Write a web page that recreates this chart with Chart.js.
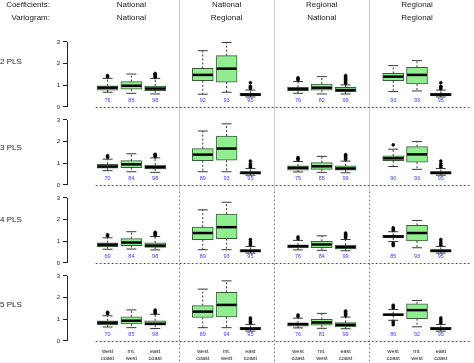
<!DOCTYPE html>
<html>
<head>
<meta charset="utf-8">
<script src="https://cdn.jsdelivr.net/npm/chart.js@4.4.1/dist/chart.umd.min.js"></script>
<style>
    html, body { margin: 0; padding: 0; background: #fff; }
</style>
</head>
<body>
<canvas id="box-grid" width="474" height="363"></canvas>
<script>
// chart data
var regions = ['west\ncoast', 'mt.\nwest', 'east\ncoast'];
var coefficients = ['National', 'National', 'Regional', 'Regional'];
var variograms = ['National', 'Regional', 'National', 'Regional'];
var plsRows = ['2 PLS', '3 PLS', '4 PLS', '5 PLS'];
var xSlots = [1, 2, 3, 5, 6, 7, 9, 10, 11, 13, 14, 15];
var yTicks = [0, 1, 2, 3];

// one row per PLS model, 12 boxes per row (4 panels x 3 regions)
var whiskerLow = [
    [0.68, 0.63, 0.60, 0.59, 0.68, 0.46, 0.63, 0.60, 0.60, 0.71, 0.74, 0.46],
    [0.66, 0.61, 0.58, 0.61, 0.61, 0.45, 0.60, 0.58, 0.56, 0.85, 0.72, 0.45],
    [0.63, 0.64, 0.60, 0.61, 0.61, 0.45, 0.60, 0.58, 0.56, 0.99, 0.70, 0.45],
    [0.64, 0.61, 0.57, 0.61, 0.61, 0.45, 0.60, 0.58, 0.56, 0.95, 0.65, 0.45]
];
var quart1 = [
    [0.78, 0.82, 0.75, 1.21, 1.15, 0.51, 0.74, 0.77, 0.71, 1.21, 1.06, 0.51],
    [0.77, 0.80, 0.74, 1.12, 1.14, 0.50, 0.68, 0.72, 0.68, 1.12, 1.05, 0.50],
    [0.75, 0.80, 0.72, 1.07, 1.12, 0.50, 0.69, 0.70, 0.65, 1.15, 1.01, 0.50],
    [0.75, 0.78, 0.72, 1.08, 1.11, 0.50, 0.68, 0.72, 0.65, 1.17, 1.02, 0.50]
];
var medians = [
    [0.89, 0.98, 0.85, 1.48, 1.77, 0.57, 0.82, 0.89, 0.78, 1.40, 1.48, 0.57],
    [0.85, 0.95, 0.82, 1.40, 1.68, 0.56, 0.79, 0.86, 0.76, 1.23, 1.41, 0.56],
    [0.84, 0.94, 0.80, 1.38, 1.65, 0.56, 0.77, 0.85, 0.73, 1.22, 1.38, 0.56],
    [0.84, 0.93, 0.79, 1.35, 1.66, 0.56, 0.77, 0.85, 0.74, 1.21, 1.42, 0.56]
];
var quart3 = [
    [0.98, 1.17, 0.97, 1.78, 2.37, 0.63, 0.91, 1.06, 0.91, 1.55, 1.83, 0.63],
    [0.95, 1.12, 0.92, 1.68, 2.26, 0.62, 0.88, 1.03, 0.88, 1.34, 1.77, 0.62],
    [0.93, 1.12, 0.93, 1.65, 2.25, 0.62, 0.84, 1.00, 0.82, 1.27, 1.73, 0.62],
    [0.93, 1.11, 0.93, 1.63, 2.24, 0.62, 0.83, 0.99, 0.85, 1.25, 1.71, 0.62]
];
var whiskerHigh = [
    [1.32, 1.52, 1.32, 2.60, 2.98, 0.78, 1.17, 1.40, 1.02, 1.91, 2.14, 0.78],
    [1.19, 1.44, 1.25, 2.49, 2.82, 0.76, 1.08, 1.32, 1.10, 1.65, 2.00, 0.76],
    [1.16, 1.44, 1.22, 2.45, 2.80, 0.76, 1.04, 1.25, 1.08, 1.44, 1.96, 0.76],
    [1.16, 1.43, 1.23, 2.39, 2.77, 0.76, 1.05, 1.27, 1.10, 1.45, 1.86, 0.76]
];
var outliers = [
    [[1.38, 1.45], [], [1.36, 1.40, 1.44, 1.48, 1.52, 1.55],
     [], [], [0.84, 0.90, 0.96, 1.12],
     [1.24, 1.30, 1.35], [], [1.08, 1.15, 1.22, 1.28, 1.34, 1.40, 1.45],
     [], [], [0.84, 0.90, 0.96, 1.12]],
    [[1.28, 1.35], [], [1.30, 1.34, 1.38, 1.42],
     [], [], [0.82, 0.90, 0.98, 1.10],
     [1.16, 1.22, 1.27], [], [1.18, 1.24, 1.30, 1.36, 1.40],
     [1.85], [], [0.82, 0.90, 0.98, 1.10]],
    [[1.24, 1.30], [], [1.27, 1.32, 1.37, 1.42],
     [], [], [0.82, 0.90, 0.98, 1.08],
     [1.12, 1.20], [], [1.16, 1.22, 1.28, 1.34, 1.38],
     [1.50, 1.56, 1.62, 0.92, 0.86, 0.80], [], [0.82, 0.90, 0.98, 1.08]],
    [[1.26, 1.32], [], [1.28, 1.33, 1.38, 1.42],
     [], [], [0.82, 0.90, 0.98, 1.06],
     [1.12, 1.20], [], [1.16, 1.22, 1.28, 1.34, 1.38],
     [1.52, 1.58, 1.65, 0.90, 0.83, 0.75], [], [0.82, 0.90, 0.98, 1.06]]
];
var counts = [
    [76, 86, 98, 92, 93, 95, 76, 82, 99, 93, 93, 95],
    [70, 84, 98, 89, 93, 95, 75, 85, 99, 90, 93, 95],
    [69, 84, 98, 89, 93, 95, 76, 84, 99, 85, 93, 95],
    [70, 85, 98, 89, 94, 95, 76, 81, 99, 86, 92, 95]
];

var FONT = '"Liberation Sans", Arial, sans-serif';
var BOX_WIDTH = 21;

// whiskers, medians, counts, separators, headers
var boxPlotExtras = {
    id: 'boxPlotExtras',
    beforeDatasetsDraw: function (chart) {
        var ctx = chart.ctx;
        var xs = chart.scales.x;
        var area = chart.chartArea;
        ctx.save();
        // panel separators
        var splitY = chart.scales.y1.bottom;
        [4, 8, 12].forEach(function (v) {
            var px = Math.round(xs.getPixelForValue(v)) + 0.5;
            ctx.setLineDash([]);
            ctx.strokeStyle = '#c8c8c8';
            ctx.lineWidth = 1;
            ctx.beginPath();
            ctx.moveTo(px, 0);
            ctx.lineTo(px, splitY);
            ctx.stroke();
            ctx.setLineDash([2, 2]);
            ctx.strokeStyle = '#8a8a8a';
            ctx.beginPath();
            ctx.moveTo(px, splitY);
            ctx.lineTo(px, chart.height);
            ctx.stroke();
        });
        // zero lines
        for (var r = 0; r < plsRows.length; r++) {
            var ys = chart.scales['y' + r];
            var py = Math.round(ys.getPixelForValue(0)) + 0.5;
            ctx.setLineDash([2, 2]);
            ctx.strokeStyle = '#555';
            ctx.lineWidth = 1;
            ctx.beginPath();
            ctx.moveTo(xs.getPixelForValue(0.5), py);
            ctx.lineTo(area.right, py);
            ctx.stroke();
        }
        ctx.restore();
    },
    afterDatasetsDraw: function (chart) {
        var ctx = chart.ctx;
        var xs = chart.scales.x;
        var half = BOX_WIDTH / 2;
        ctx.save();
        for (var r = 0; r < plsRows.length; r++) {
            var ys = chart.scales['y' + r];
            for (var i = 0; i < xSlots.length; i++) {
                var cx = xs.getPixelForValue(xSlots[i]);
                var pLo = ys.getPixelForValue(whiskerLow[r][i]);
                var pHi = ys.getPixelForValue(whiskerHigh[r][i]);
                var pQ1 = ys.getPixelForValue(quart1[r][i]);
                var pQ3 = ys.getPixelForValue(quart3[r][i]);
                var pMed = ys.getPixelForValue(medians[r][i]);

                // dashed whiskers
                ctx.setLineDash([2, 2]);
                ctx.strokeStyle = '#222';
                ctx.lineWidth = 0.9;
                ctx.beginPath();
                ctx.moveTo(cx, pQ3);
                ctx.lineTo(cx, pHi);
                ctx.moveTo(cx, pQ1);
                ctx.lineTo(cx, pLo);
                ctx.stroke();

                // caps
                ctx.setLineDash([]);
                ctx.beginPath();
                ctx.moveTo(cx - 5, pHi);
                ctx.lineTo(cx + 5, pHi);
                ctx.moveTo(cx - 5, pLo);
                ctx.lineTo(cx + 5, pLo);
                ctx.stroke();

                // median
                ctx.strokeStyle = '#000';
                ctx.lineWidth = 2.5;
                ctx.beginPath();
                ctx.moveTo(cx - half + 0.5, pMed);
                ctx.lineTo(cx + half - 0.5, pMed);
                ctx.stroke();

                // counts
                ctx.fillStyle = '#3b3bf5';
                ctx.font = '5.5px ' + FONT;
                ctx.textAlign = 'center';
                ctx.textBaseline = 'middle';
                ctx.fillText(String(counts[r][i]), cx, ys.getPixelForValue(0.28));
            }
            // axis line from 0 to 3
            ctx.strokeStyle = '#222';
            ctx.lineWidth = 1;
            ctx.beginPath();
            ctx.moveTo(chart.chartArea.left + 0.5, ys.getPixelForValue(0));
            ctx.lineTo(chart.chartArea.left + 0.5, ys.getPixelForValue(3));
            ctx.stroke();
        }
        ctx.restore();
    },
    afterDraw: function (chart) {
        var ctx = chart.ctx;
        var xs = chart.scales.x;
        var rowLabelAt = [2.08, 1.71, 2.0, 1.68];
        ctx.save();
        ctx.fillStyle = '#222';
        ctx.font = '8px ' + FONT;
        ctx.textBaseline = 'middle';
        ctx.textAlign = 'right';
        ctx.fillText('Coefficients:', 50, 4.5);
        ctx.fillText('Variogram:', 50, 17.5);
        ctx.textAlign = 'center';
        for (var p = 0; p < coefficients.length; p++) {
            var cx = xs.getPixelForValue(xSlots[p * 3 + 1]);
            ctx.fillText(coefficients[p], cx, 4.5);
            ctx.fillText(variograms[p], cx, 17.5);
        }
        ctx.textAlign = 'left';
        for (var r = 0; r < plsRows.length; r++) {
            ctx.fillText(plsRows[r], 0, chart.scales['y' + r].getPixelForValue(rowLabelAt[r]));
        }
        ctx.restore();
    }
};

function BuildDatasets() {
    var sets = [];
    for (var r = 0; r < plsRows.length; r++) {
        var boxes = [];
        var points = [];
        for (var i = 0; i < xSlots.length; i++) {
            boxes.push({ x: xSlots[i], y: [quart1[r][i], quart3[r][i]] });
            for (var k = 0; k < outliers[r][i].length; k++)
                points.push({ x: xSlots[i], y: outliers[r][i][k] });
        }
        sets.push({
            type: 'bar',
            label: plsRows[r],
            data: boxes,
            yAxisID: 'y' + r,
            grouped: false,
            barThickness: BOX_WIDTH,
            backgroundColor: '#90ee90',
            borderColor: '#3d5c3d',
            borderWidth: 1,
            borderSkipped: false
        });
        sets.push({
            type: 'scatter',
            label: plsRows[r] + ' outliers',
            data: points,
            yAxisID: 'y' + r,
            pointRadius: 1.5,
            pointBackgroundColor: '#000',
            pointBorderColor: '#000',
            pointBorderWidth: 0.5
        });
    }
    return sets;
}

function BuildScales() {
    var scales = {
        x: {
            type: 'linear',
            min: 0,
            max: 15.5,
            grid: { display: false, drawTicks: false },
            border: { display: false },
            afterBuildTicks: function (scale) {
                scale.ticks = xSlots.map(function (v) { return { value: v }; });
            },
            ticks: {
                autoSkip: false,
                maxRotation: 0,
                padding: 0,
                color: '#222',
                font: { family: FONT, size: 5.5, lineHeight: 1.33 },
                callback: function (value, index) {
                    return regions[index % 3].split('\n');
                }
            }
        }
    };
    for (var r = 0; r < plsRows.length; r++) {
        scales['y' + r] = {
            type: 'linear',
            position: 'left',
            stack: 'rows',
            stackWeight: 1,
            weight: plsRows.length - r,
            min: -0.3,
            max: 3.3,
            afterBuildTicks: function (scale) {
                scale.ticks = yTicks.map(function (v) { return { value: v }; });
            },
            afterFit: function (scale) { scale.width = 67; },
            grid: { drawOnChartArea: false, drawTicks: true, tickLength: 4, color: '#222' },
            border: { display: false },
            ticks: { padding: 3, color: '#222', font: { family: FONT, size: 6 } }
        };
    }
    return scales;
}

var ctx = document.getElementById('box-grid');
var boxChart = new Chart(ctx, {
    type: 'bar',
    data: { datasets: BuildDatasets() },
    options: {
        responsive: false,
        animation: false,
        devicePixelRatio: 1,
        layout: { padding: { top: 35.5, right: 0, bottom: 1, left: 0 } },
        plugins: { legend: { display: false }, tooltip: { enabled: false } },
        scales: BuildScales()
    },
    plugins: [boxPlotExtras]
});
</script>
</body>
</html>
